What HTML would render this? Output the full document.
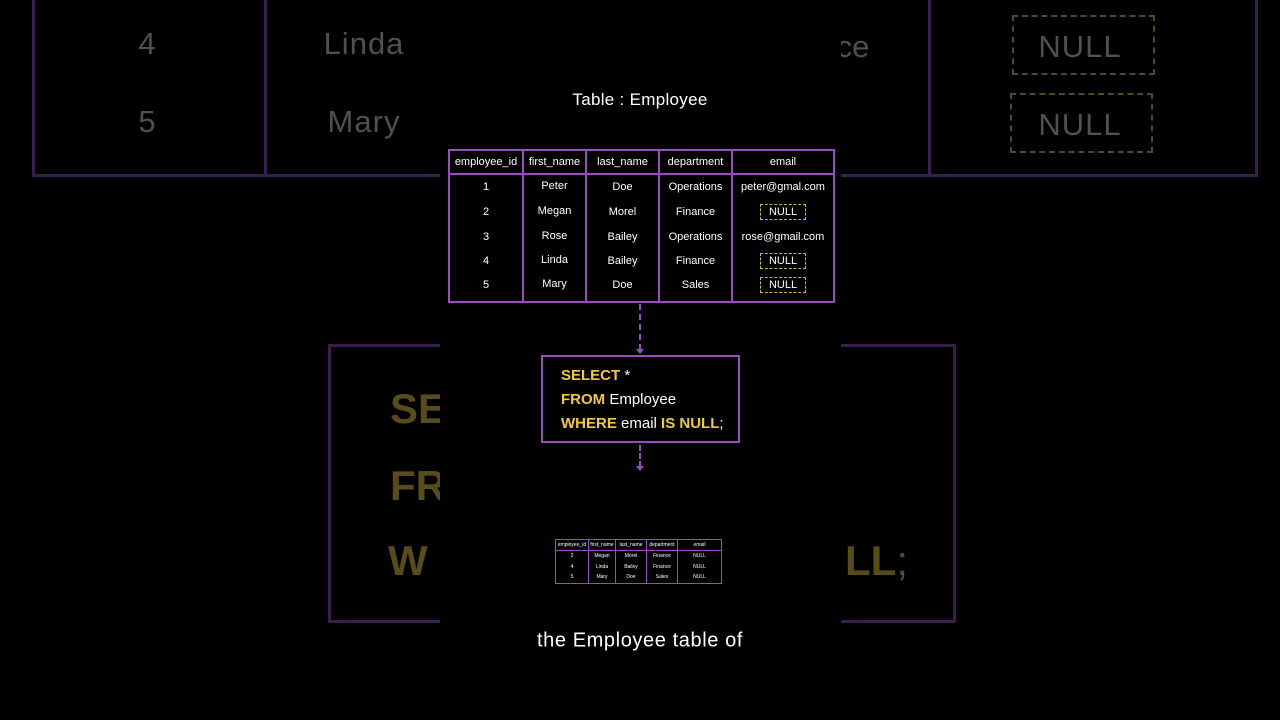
<!DOCTYPE html>
<html><head><meta charset="utf-8"><style>
*{margin:0;padding:0;box-sizing:border-box}
body{width:1280px;height:720px;background:#000;position:relative;overflow:hidden;font-family:"Liberation Sans",sans-serif;color:#fff}
.a{position:absolute}
.t{position:absolute;transform:translate(-50%,-50%);white-space:nowrap}
.dim{color:#505050}
.dy{color:#5a4b1a;font-weight:bold;font-size:42px}
.nb{border:2px dashed #4c4c25}
table{border-collapse:collapse;position:absolute;border:2px solid #9a4cc4}
td{border:2px solid #9a4cc4;text-align:center;font-size:11px;color:#fff;padding:0;vertical-align:middle}
.b td{border-top:none;border-bottom:none}
.nl{display:inline-block;border:1px dashed #b9c04a;padding:1px 8px;line-height:12px}
.s{border-width:1px}
.s td{font-size:5px;border-width:1px}
.s .b td{border-top:none;border-bottom:none}
</style></head><body>
<div class="a" style="left:32px;top:-5px;width:410px;height:182px;border:3px solid #3a1e4c;border-top:none;border-right:none"></div>
<div class="a" style="left:264px;top:0;width:3px;height:177px;background:#3a1e4c"></div>
<div class="t dim" style="left:147px;top:44px;font-size:31px">4</div>
<div class="t dim" style="left:147px;top:122px;font-size:31px">5</div>
<div class="t dim" style="left:364px;top:44px;font-size:31px;letter-spacing:1px">Linda</div>
<div class="t dim" style="left:364px;top:122px;font-size:31px;letter-spacing:1px">Mary</div>
<div class="a" style="left:838px;top:-5px;width:420px;height:182px;border:3px solid #3a1e4c;border-top:none;border-left:none"></div>
<div class="a" style="left:928px;top:0;width:3px;height:177px;background:#3a1e4c"></div>
<div class="t dim" style="left:853px;top:47px;font-size:31px">ce</div>
<div class="a nb" style="left:1012px;top:15px;width:143px;height:60px"></div>
<div class="a nb" style="left:1010px;top:93px;width:143px;height:60px"></div>
<div class="t dim" style="left:1080px;top:47px;font-size:31px;letter-spacing:1px">NULL</div>
<div class="t dim" style="left:1080px;top:125px;font-size:31px;letter-spacing:1px">NULL</div>
<div class="a" style="left:328px;top:344px;width:628px;height:279px;border:3px solid #3a1e4c"></div>
<div class="a dy" style="left:390px;top:385px">SE</div>
<div class="a dy" style="left:390px;top:462px">FR</div>
<div class="a dy" style="left:388px;top:537px">W</div>
<div class="a dy" style="left:845px;top:537px">LL<span style="color:#4a4a4a;font-weight:normal">;</span></div>
<div class="a" style="left:440px;top:0;width:401px;height:720px;background:#000"></div>
<div class="t" style="left:640px;top:100px;font-size:17px;letter-spacing:0.3px">Table : Employee</div>
<table style="left:448px;top:149px;width:387px;table-layout:fixed">
<tr style="height:24px"><td style="width:74px">employee_id</td><td style="width:63px">first_name</td><td style="width:73px">last_name</td><td style="width:73px">department</td><td>email</td></tr>
<tr class="b" style="height:25px"><td>1</td><td style="padding-bottom:2px">Peter</td><td>Doe</td><td>Operations</td><td>peter@gmal.com</td></tr>
<tr class="b" style="height:25px"><td>2</td><td style="padding-bottom:2px">Megan</td><td>Morel</td><td>Finance</td><td><span class="nl">NULL</span></td></tr>
<tr class="b" style="height:25px"><td>3</td><td style="padding-bottom:2px">Rose</td><td>Bailey</td><td>Operations</td><td>rose@gmail.com</td></tr>
<tr class="b" style="height:24px"><td>4</td><td style="padding-bottom:2px">Linda</td><td>Bailey</td><td>Finance</td><td><span class="nl">NULL</span></td></tr>
<tr class="b" style="height:29px"><td style="padding-bottom:5px">5</td><td style="padding-bottom:7px">Mary</td><td style="padding-bottom:5px">Doe</td><td style="padding-bottom:5px">Sales</td><td style="padding-bottom:5px"><span class="nl">NULL</span></td></tr>
</table>
<div class="a" style="left:639px;top:304px;height:46px;border-left:2px dashed #9a4cc4"></div>
<div class="a" style="left:636px;top:349px;border-left:4px solid transparent;border-right:4px solid transparent;border-top:5px solid #9a4cc4"></div>
<div class="a" style="left:541px;top:355px;width:199px;height:88px;border:2px solid #9a4cc4"></div>
<div class="a" style="left:561px;top:364px;font-size:15px;line-height:24px;color:#fff">
<b style="color:#f2c93c">SELECT</b> *<br><b style="color:#f2c93c">FROM</b> Employee<br><b style="color:#f2c93c">WHERE</b> email <b style="color:#f2c93c">IS NULL</b>;</div>
<div class="a" style="left:639px;top:445px;height:22px;border-left:2px dashed #9a4cc4"></div>
<div class="a" style="left:636px;top:466px;border-left:4px solid transparent;border-right:4px solid transparent;border-top:5px solid #9a4cc4"></div>
<table class="s" style="left:555px;top:539px;width:167px;table-layout:fixed">
<tr style="height:11px"><td style="width:33px">employee_id</td><td style="width:27px">first_name</td><td style="width:31px">last_name</td><td style="width:31px">department</td><td>email</td></tr>
<tr class="b" style="height:11px"><td>2</td><td>Megan</td><td>Morel</td><td>Finance</td><td>NULL</td></tr>
<tr class="b" style="height:10px"><td>4</td><td>Linda</td><td>Bailey</td><td>Finance</td><td>NULL</td></tr>
<tr class="b" style="height:12px"><td>5</td><td>Mary</td><td>Doe</td><td>Sales</td><td>NULL</td></tr>
</table>
<div class="t" style="left:640px;top:641px;font-size:20px;letter-spacing:0.6px">the Employee table of</div>
</body></html>
